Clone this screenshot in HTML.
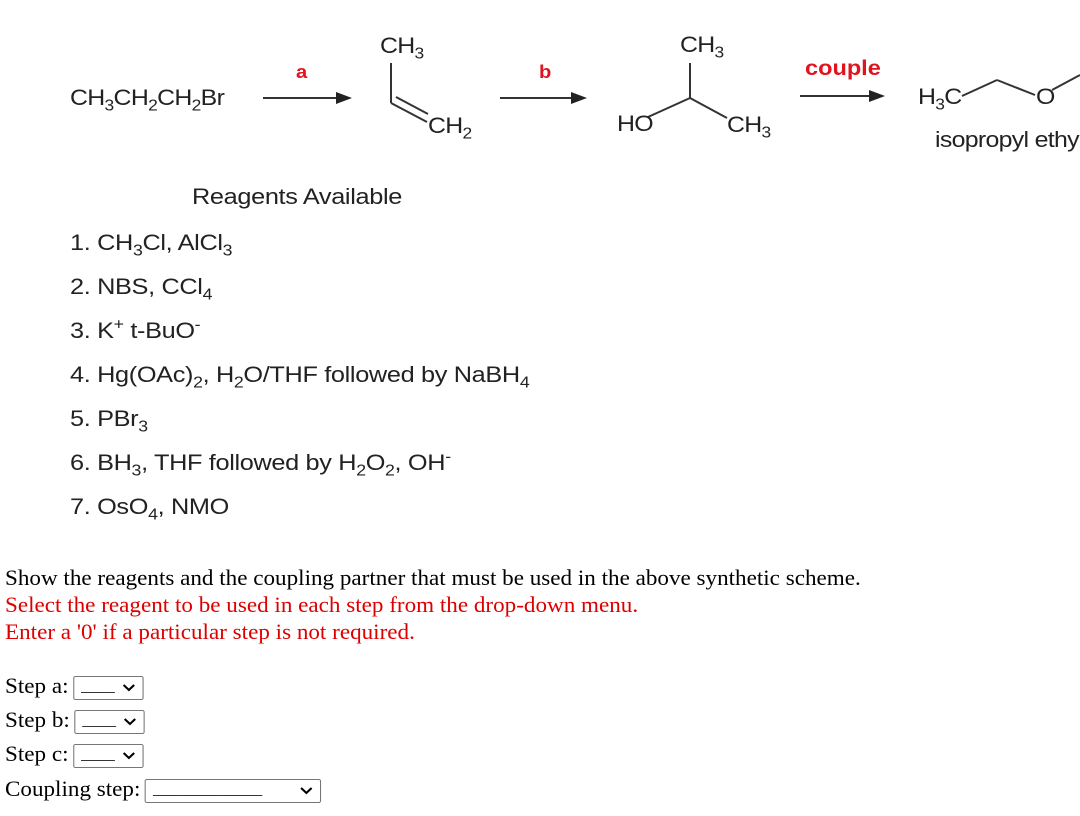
<!DOCTYPE html>
<html><head><meta charset="utf-8"><style>
body{margin:0;width:1080px;height:816px;background:#fff;position:relative;overflow:hidden;font-family:"Liberation Sans",Arial,sans-serif;color:#222}
.a{position:absolute;white-space:nowrap;line-height:1;transform-origin:0 0}
.c{font-size:22px;letter-spacing:-0.6px;transform:scaleX(1.13)}
.r{color:#e0141e;font-weight:bold;font-size:21px;transform:scaleX(1.12)}
.l{font-size:22px;letter-spacing:-0.3px;transform:scaleX(1.15)}
sub,sup{font-size:70%;line-height:0}
.t{position:absolute;white-space:nowrap;font-family:"Liberation Serif","Times New Roman",serif;font-size:22px;color:#000;line-height:1;transform:scaleX(1.05);transform-origin:0 0}
.red{color:#d00}
.sel{display:inline-block;vertical-align:middle;border:1px solid #767676;border-radius:2px;height:24px;box-sizing:border-box;position:relative;margin-left:4px}
.sel .u{position:absolute;left:7px;top:2px;font-size:16px}
.sel svg{position:absolute;right:7px;top:7px}
</style></head><body>
<svg width="1080" height="816" style="position:absolute;left:0;top:0">
<g stroke="#333" stroke-width="2" fill="none">
<line x1="263" y1="98" x2="340" y2="98"/>
<line x1="500" y1="98" x2="575" y2="98"/>
<line x1="800" y1="96" x2="872" y2="96"/>
<line x1="391" y1="63" x2="391" y2="103"/>
<line x1="391" y1="103" x2="427" y2="122"/>
<line x1="396" y1="97" x2="428" y2="114"/>
<line x1="690" y1="63" x2="690" y2="98"/>
<line x1="648" y1="117" x2="690" y2="98"/>
<line x1="690" y1="98" x2="727" y2="118"/>
<line x1="962" y1="96" x2="997" y2="80"/>
<line x1="997" y1="80" x2="1035" y2="95"/>
<line x1="1052" y1="90" x2="1080" y2="75"/>
</g>
<g fill="#222">
<polygon points="352,98 336,92 336,104"/>
<polygon points="587,98 571,92 571,104"/>
<polygon points="885,96 869,90 869,102"/>
</g>
</svg>
<div class="a c" style="left:70px;top:87px">CH<sub>3</sub>CH<sub>2</sub>CH<sub>2</sub>Br</div>
<div class="a r" style="left:296px;top:63px;font-size:18px">a</div>
<div class="a c" style="left:380px;top:35px">CH<sub>3</sub></div>
<div class="a c" style="left:428px;top:115px">CH<sub>2</sub></div>
<div class="a r" style="left:539px;top:63px;font-size:18px">b</div>
<div class="a c" style="left:680px;top:34px">CH<sub>3</sub></div>
<div class="a c" style="left:617px;top:113px">HO</div>
<div class="a c" style="left:727px;top:114px">CH<sub>3</sub></div>
<div class="a r" style="left:805px;top:58px">couple</div>
<div class="a c" style="left:918px;top:86px">H<sub>3</sub>C</div>
<div class="a c" style="left:1036px;top:86px">O</div>
<div class="a c" style="left:935px;top:129px">isopropyl ethyl</div>
<div class="a l" style="left:192px;top:186px">Reagents Available</div>
<div class="a l" style="left:70px;top:232px">1. CH<sub>3</sub>Cl, AlCl<sub>3</sub></div>
<div class="a l" style="left:70px;top:276px">2. NBS, CCl<sub>4</sub></div>
<div class="a l" style="left:70px;top:320px">3. K<sup>+</sup> t-BuO<sup>-</sup></div>
<div class="a l" style="left:70px;top:364px">4. Hg(OAc)<sub>2</sub>, H<sub>2</sub>O/THF followed by NaBH<sub>4</sub></div>
<div class="a l" style="left:70px;top:408px">5. PBr<sub>3</sub></div>
<div class="a l" style="left:70px;top:452px">6. BH<sub>3</sub>, THF followed by H<sub>2</sub>O<sub>2</sub>, OH<sup>-</sup></div>
<div class="a l" style="left:70px;top:496px">7. OsO<sub>4</sub>, NMO</div>
<div class="t" style="left:5px;top:567px">Show the reagents and the coupling partner that must be used in the above synthetic scheme.</div>
<div class="t red" style="left:5px;top:594px">Select the reagent to be used in each step from the drop-down menu.</div>
<div class="t red" style="left:5px;top:621px">Enter a '0' if a particular step is not required.</div>
<div class="t" style="left:5px;top:675px">Step a:<span class="sel" style="width:67px"><span class="u">____</span><svg width="12" height="8"><path d="M1 1l5 5 5-5" stroke="#000" stroke-width="2" fill="none"/></svg></span></div>
<div class="t" style="left:5px;top:709px">Step b:<span class="sel" style="width:67px"><span class="u">____</span><svg width="12" height="8"><path d="M1 1l5 5 5-5" stroke="#000" stroke-width="2" fill="none"/></svg></span></div>
<div class="t" style="left:5px;top:743px">Step c:<span class="sel" style="width:67px"><span class="u">____</span><svg width="12" height="8"><path d="M1 1l5 5 5-5" stroke="#000" stroke-width="2" fill="none"/></svg></span></div>
<div class="t" style="left:5px;top:778px">Coupling step:<span class="sel" style="width:168px"><span class="u">_____________</span><svg width="12" height="8"><path d="M1 1l5 5 5-5" stroke="#000" stroke-width="2" fill="none"/></svg></span></div>
</body></html>
